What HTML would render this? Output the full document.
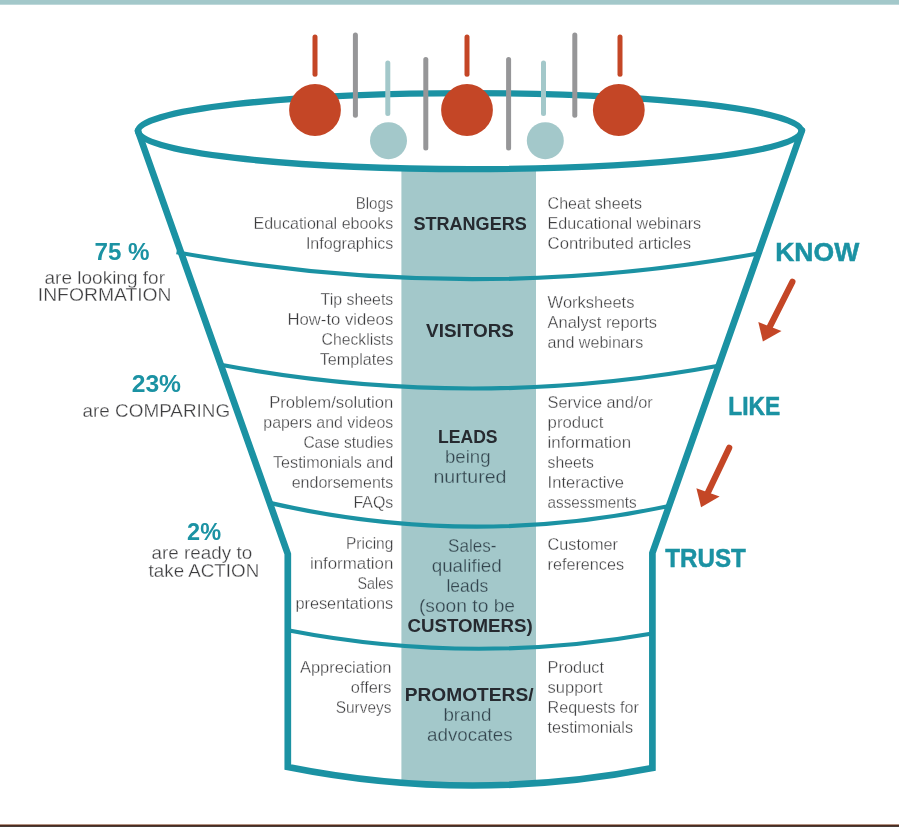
<!DOCTYPE html>
<html><head><meta charset="utf-8"><title>Funnel</title>
<style>html,body{margin:0;padding:0;background:#fff}svg{display:block;will-change:transform}text{font-family:"Liberation Sans",sans-serif}</style></head><body>
<svg width="899" height="827" viewBox="0 0 899 827">
<rect width="899" height="827" fill="#fff"/>
<rect x="0" y="0" width="899" height="4.7" fill="#a3c8ca"/>
<rect x="0" y="824" width="899" height="1" fill="#b39383"/><rect x="0" y="825" width="899" height="1" fill="#4e2c20"/><rect x="0" y="826" width="899" height="1" fill="#463c38"/>
<path d="M401.4,166 L536,166 L536,783 Q469.75,788 401.4,783 Z" fill="#a3c8ca"/>
<ellipse cx="469.75" cy="131.1" rx="331.75" ry="38.0" fill="none" stroke="#1b92a3" stroke-width="6.3"/>
<path d="M176.5,252.2 Q469.75,305.55 758,253.5" fill="none" stroke="#1b92a3" stroke-width="4.2"/>
<path d="M220.8,364.8 Q469.75,411.70 718.6,365.8" fill="none" stroke="#1b92a3" stroke-width="4.2"/>
<path d="M269.7,502.9 Q469.75,548.75 669.0,506" fill="none" stroke="#1b92a3" stroke-width="4.2"/>
<path d="M287.8,630.2 Q469.75,665.55 652.4,633.5" fill="none" stroke="#1b92a3" stroke-width="4.2"/>
<path d="M138,131 L287.8,554 L287.8,767 Q469.75,803.5 652.4,768 L652.4,553 L801.9,130.5" fill="none" stroke="#1b92a3" stroke-width="6.7" stroke-linejoin="miter" stroke-linecap="round"/>
<line x1="355.4" y1="34.9" x2="355.4" y2="115.2" stroke="#969698" stroke-width="5" stroke-linecap="round"/>
<line x1="574.8" y1="34.9" x2="574.8" y2="115.2" stroke="#969698" stroke-width="5" stroke-linecap="round"/>
<line x1="425.8" y1="59.5" x2="425.8" y2="147.9" stroke="#969698" stroke-width="5" stroke-linecap="round"/>
<line x1="508.6" y1="59.5" x2="508.6" y2="147.9" stroke="#969698" stroke-width="5" stroke-linecap="round"/>
<line x1="387.8" y1="63.1" x2="387.8" y2="113.5" stroke="#a3c8ca" stroke-width="5" stroke-linecap="round"/>
<line x1="543.5" y1="63.1" x2="543.5" y2="113.5" stroke="#a3c8ca" stroke-width="5" stroke-linecap="round"/>
<line x1="315" y1="36.9" x2="315" y2="74.3" stroke="#c44626" stroke-width="5" stroke-linecap="round"/>
<line x1="467" y1="36.9" x2="467" y2="74.3" stroke="#c44626" stroke-width="5" stroke-linecap="round"/>
<line x1="620" y1="36.9" x2="620" y2="74.3" stroke="#c44626" stroke-width="5" stroke-linecap="round"/>
<circle cx="315" cy="110" r="25.9" fill="#c44626"/>
<circle cx="467" cy="110" r="25.9" fill="#c44626"/>
<circle cx="618.8" cy="110" r="25.9" fill="#c44626"/>
<circle cx="388.5" cy="140.7" r="18.5" fill="#a3c8ca"/>
<circle cx="545.3" cy="140.7" r="18.5" fill="#a3c8ca"/>
<line x1="792.4" y1="281.8" x2="769.9" y2="326.5" stroke="#c44626" stroke-width="6.2" stroke-linecap="round"/>
<polygon points="758.3,322.1 781.5,330.9 762.9,341.6" fill="#c44626"/>
<line x1="729.2" y1="447.8" x2="708.0" y2="492.4" stroke="#c44626" stroke-width="6.2" stroke-linecap="round"/>
<polygon points="696.4,488.3 719.6,496.5 701.1,507.3" fill="#c44626"/>
<text x="355.70" y="208.8" font-size="16" fill="#3d3d3f" stroke="#fff" stroke-width="0.3" textLength="37.62" lengthAdjust="spacingAndGlyphs">Blogs</text>
<text x="253.50" y="228.8" font-size="16" fill="#3d3d3f" stroke="#fff" stroke-width="0.3" textLength="139.76" lengthAdjust="spacingAndGlyphs">Educational ebooks</text>
<text x="305.90" y="248.8" font-size="16" fill="#3d3d3f" stroke="#fff" stroke-width="0.3" textLength="87.36" lengthAdjust="spacingAndGlyphs">Infographics</text>
<text x="320.60" y="304.6" font-size="16" fill="#3d3d3f" stroke="#fff" stroke-width="0.3" textLength="72.72" lengthAdjust="spacingAndGlyphs">Tip sheets</text>
<text x="287.40" y="324.6" font-size="16" fill="#3d3d3f" stroke="#fff" stroke-width="0.3" textLength="105.87" lengthAdjust="spacingAndGlyphs">How-to videos</text>
<text x="321.50" y="344.6" font-size="16" fill="#3d3d3f" stroke="#fff" stroke-width="0.3" textLength="71.81" lengthAdjust="spacingAndGlyphs">Checklists</text>
<text x="319.70" y="364.6" font-size="16" fill="#3d3d3f" stroke="#fff" stroke-width="0.3" textLength="73.62" lengthAdjust="spacingAndGlyphs">Templates</text>
<text x="269.20" y="407.8" font-size="16" fill="#3d3d3f" stroke="#fff" stroke-width="0.3" textLength="124.07" lengthAdjust="spacingAndGlyphs">Problem/solution</text>
<text x="263.30" y="427.8" font-size="16" fill="#3d3d3f" stroke="#fff" stroke-width="0.3" textLength="129.96" lengthAdjust="spacingAndGlyphs">papers and videos</text>
<text x="303.40" y="447.8" font-size="16" fill="#3d3d3f" stroke="#fff" stroke-width="0.3" textLength="89.89" lengthAdjust="spacingAndGlyphs">Case studies</text>
<text x="273.00" y="467.8" font-size="16" fill="#3d3d3f" stroke="#fff" stroke-width="0.3" textLength="120.27" lengthAdjust="spacingAndGlyphs">Testimonials and</text>
<text x="291.70" y="487.8" font-size="16" fill="#3d3d3f" stroke="#fff" stroke-width="0.3" textLength="101.59" lengthAdjust="spacingAndGlyphs">endorsements</text>
<text x="353.40" y="507.8" font-size="16" fill="#3d3d3f" stroke="#fff" stroke-width="0.3" textLength="39.91" lengthAdjust="spacingAndGlyphs">FAQs</text>
<text x="346.00" y="549.2" font-size="16" fill="#3d3d3f" stroke="#fff" stroke-width="0.3" textLength="47.31" lengthAdjust="spacingAndGlyphs">Pricing</text>
<text x="309.90" y="569.2" font-size="16" fill="#3d3d3f" stroke="#fff" stroke-width="0.3" textLength="83.45" lengthAdjust="spacingAndGlyphs">information</text>
<text x="357.60" y="589.2" font-size="16" fill="#3d3d3f" stroke="#fff" stroke-width="0.3" textLength="35.72" lengthAdjust="spacingAndGlyphs">Sales</text>
<text x="295.40" y="609.2" font-size="16" fill="#3d3d3f" stroke="#fff" stroke-width="0.3" textLength="97.86" lengthAdjust="spacingAndGlyphs">presentations</text>
<text x="300.00" y="672.5" font-size="16" fill="#3d3d3f" stroke="#fff" stroke-width="0.3" textLength="91.45" lengthAdjust="spacingAndGlyphs">Appreciation</text>
<text x="350.80" y="692.5" font-size="16" fill="#3d3d3f" stroke="#fff" stroke-width="0.3" textLength="40.63" lengthAdjust="spacingAndGlyphs">offers</text>
<text x="335.80" y="712.5" font-size="16" fill="#3d3d3f" stroke="#fff" stroke-width="0.3" textLength="55.60" lengthAdjust="spacingAndGlyphs">Surveys</text>
<text x="547.60" y="209.1" font-size="16" fill="#3d3d3f" stroke="#fff" stroke-width="0.3" textLength="94.48" lengthAdjust="spacingAndGlyphs">Cheat sheets</text>
<text x="547.60" y="229.1" font-size="16" fill="#3d3d3f" stroke="#fff" stroke-width="0.3" textLength="153.49" lengthAdjust="spacingAndGlyphs">Educational webinars</text>
<text x="547.60" y="249.1" font-size="16" fill="#3d3d3f" stroke="#fff" stroke-width="0.3" textLength="143.55" lengthAdjust="spacingAndGlyphs">Contributed articles</text>
<text x="547.60" y="307.5" font-size="16" fill="#3d3d3f" stroke="#fff" stroke-width="0.3" textLength="86.88" lengthAdjust="spacingAndGlyphs">Worksheets</text>
<text x="547.60" y="327.5" font-size="16" fill="#3d3d3f" stroke="#fff" stroke-width="0.3" textLength="109.31" lengthAdjust="spacingAndGlyphs">Analyst reports</text>
<text x="547.60" y="347.5" font-size="16" fill="#3d3d3f" stroke="#fff" stroke-width="0.3" textLength="95.57" lengthAdjust="spacingAndGlyphs">and webinars</text>
<text x="547.60" y="407.8" font-size="16" fill="#3d3d3f" stroke="#fff" stroke-width="0.3" textLength="105.16" lengthAdjust="spacingAndGlyphs">Service and/or</text>
<text x="547.60" y="427.8" font-size="16" fill="#3d3d3f" stroke="#fff" stroke-width="0.3" textLength="55.77" lengthAdjust="spacingAndGlyphs">product</text>
<text x="547.60" y="447.8" font-size="16" fill="#3d3d3f" stroke="#fff" stroke-width="0.3" textLength="83.45" lengthAdjust="spacingAndGlyphs">information</text>
<text x="547.60" y="467.8" font-size="16" fill="#3d3d3f" stroke="#fff" stroke-width="0.3" textLength="46.24" lengthAdjust="spacingAndGlyphs">sheets</text>
<text x="547.60" y="487.8" font-size="16" fill="#3d3d3f" stroke="#fff" stroke-width="0.3" textLength="76.41" lengthAdjust="spacingAndGlyphs">Interactive</text>
<text x="547.60" y="507.8" font-size="16" fill="#3d3d3f" stroke="#fff" stroke-width="0.3" textLength="88.97" lengthAdjust="spacingAndGlyphs">assessments</text>
<text x="547.60" y="549.8" font-size="16" fill="#3d3d3f" stroke="#fff" stroke-width="0.3" textLength="70.35" lengthAdjust="spacingAndGlyphs">Customer</text>
<text x="547.60" y="569.8" font-size="16" fill="#3d3d3f" stroke="#fff" stroke-width="0.3" textLength="76.39" lengthAdjust="spacingAndGlyphs">references</text>
<text x="547.60" y="673.4" font-size="16" fill="#3d3d3f" stroke="#fff" stroke-width="0.3" textLength="56.34" lengthAdjust="spacingAndGlyphs">Product</text>
<text x="547.60" y="693.4" font-size="16" fill="#3d3d3f" stroke="#fff" stroke-width="0.3" textLength="54.97" lengthAdjust="spacingAndGlyphs">support</text>
<text x="547.60" y="713.4" font-size="16" fill="#3d3d3f" stroke="#fff" stroke-width="0.3" textLength="91.21" lengthAdjust="spacingAndGlyphs">Requests for</text>
<text x="547.60" y="733.4" font-size="16" fill="#3d3d3f" stroke="#fff" stroke-width="0.3" textLength="85.48" lengthAdjust="spacingAndGlyphs">testimonials</text>
<text x="413.40" y="230.3" font-size="18.7" fill="#262a30" font-weight="bold" textLength="113.41" lengthAdjust="spacingAndGlyphs">STRANGERS</text>
<text x="426.10" y="337.3" font-size="18.7" fill="#262a30" font-weight="bold" textLength="87.85" lengthAdjust="spacingAndGlyphs">VISITORS</text>
<text x="438.00" y="442.6" font-size="18.7" fill="#262a30" font-weight="bold" textLength="59.58" lengthAdjust="spacingAndGlyphs">LEADS</text>
<text x="445.00" y="463.1" font-size="18.5" fill="#33454e" stroke="#a3c8ca" stroke-width="0.3" textLength="45.57" lengthAdjust="spacingAndGlyphs">being</text>
<text x="433.40" y="483.4" font-size="18.5" fill="#33454e" stroke="#a3c8ca" stroke-width="0.3" textLength="73.11" lengthAdjust="spacingAndGlyphs">nurtured</text>
<text x="448.10" y="552" font-size="18.5" fill="#33454e" stroke="#a3c8ca" stroke-width="0.3" textLength="48.43" lengthAdjust="spacingAndGlyphs">Sales-</text>
<text x="431.70" y="571.8" font-size="18.5" fill="#33454e" stroke="#a3c8ca" stroke-width="0.3" textLength="70.11" lengthAdjust="spacingAndGlyphs">qualified</text>
<text x="446.40" y="591.8" font-size="18.5" fill="#33454e" stroke="#a3c8ca" stroke-width="0.3" textLength="41.73" lengthAdjust="spacingAndGlyphs">leads</text>
<text x="418.90" y="612" font-size="18.5" fill="#33454e" stroke="#a3c8ca" stroke-width="0.3" textLength="96.17" lengthAdjust="spacingAndGlyphs">(soon to be</text>
<text x="407.50" y="631.8" font-size="18.7" fill="#262a30" font-weight="bold" textLength="125.17" lengthAdjust="spacingAndGlyphs">CUSTOMERS)</text>
<text x="404.70" y="701.4" font-size="18.7" fill="#262a30" font-weight="bold" textLength="128.82" lengthAdjust="spacingAndGlyphs">PROMOTERS/</text>
<text x="443.40" y="721" font-size="18.5" fill="#33454e" stroke="#a3c8ca" stroke-width="0.3" textLength="48.02" lengthAdjust="spacingAndGlyphs">brand</text>
<text x="427.00" y="741.3" font-size="18.5" fill="#33454e" stroke="#a3c8ca" stroke-width="0.3" textLength="85.64" lengthAdjust="spacingAndGlyphs">advocates</text>
<text x="94.50" y="260.4" font-size="24" fill="#1b92a3" font-weight="bold" textLength="55.11" lengthAdjust="spacingAndGlyphs">75 %</text>
<text x="44.50" y="283.8" font-size="19" fill="#3d3d3f" stroke="#fff" stroke-width="0.3" textLength="120.50" lengthAdjust="spacingAndGlyphs">are looking for</text>
<text x="37.80" y="301.2" font-size="19" fill="#3d3d3f" stroke="#fff" stroke-width="0.3" textLength="133.78" lengthAdjust="spacingAndGlyphs">INFORMATION</text>
<text x="131.70" y="392.4" font-size="24" fill="#1b92a3" font-weight="bold" textLength="49.34" lengthAdjust="spacingAndGlyphs">23%</text>
<text x="82.50" y="417.4" font-size="19" fill="#3d3d3f" stroke="#fff" stroke-width="0.3" textLength="147.70" lengthAdjust="spacingAndGlyphs">are COMPARING</text>
<text x="187.10" y="539.6" font-size="24" fill="#1b92a3" font-weight="bold" textLength="33.99" lengthAdjust="spacingAndGlyphs">2%</text>
<text x="151.60" y="559.2" font-size="19" fill="#3d3d3f" stroke="#fff" stroke-width="0.3" textLength="100.59" lengthAdjust="spacingAndGlyphs">are ready to</text>
<text x="148.60" y="576.8" font-size="19" fill="#3d3d3f" stroke="#fff" stroke-width="0.3" textLength="110.62" lengthAdjust="spacingAndGlyphs">take ACTION</text>
<text x="775.20" y="261.1" font-size="26" fill="#1b92a3" font-weight="bold" stroke="#1b92a3" stroke-width="0.5" textLength="84.02" lengthAdjust="spacingAndGlyphs">KNOW</text>
<text x="728.20" y="415.2" font-size="26" fill="#1b92a3" font-weight="bold" stroke="#1b92a3" stroke-width="0.5" textLength="52.02" lengthAdjust="spacingAndGlyphs">LIKE</text>
<text x="665.30" y="567.1" font-size="26" fill="#1b92a3" font-weight="bold" stroke="#1b92a3" stroke-width="0.5" textLength="80.46" lengthAdjust="spacingAndGlyphs">TRUST</text>
</svg></body></html>
